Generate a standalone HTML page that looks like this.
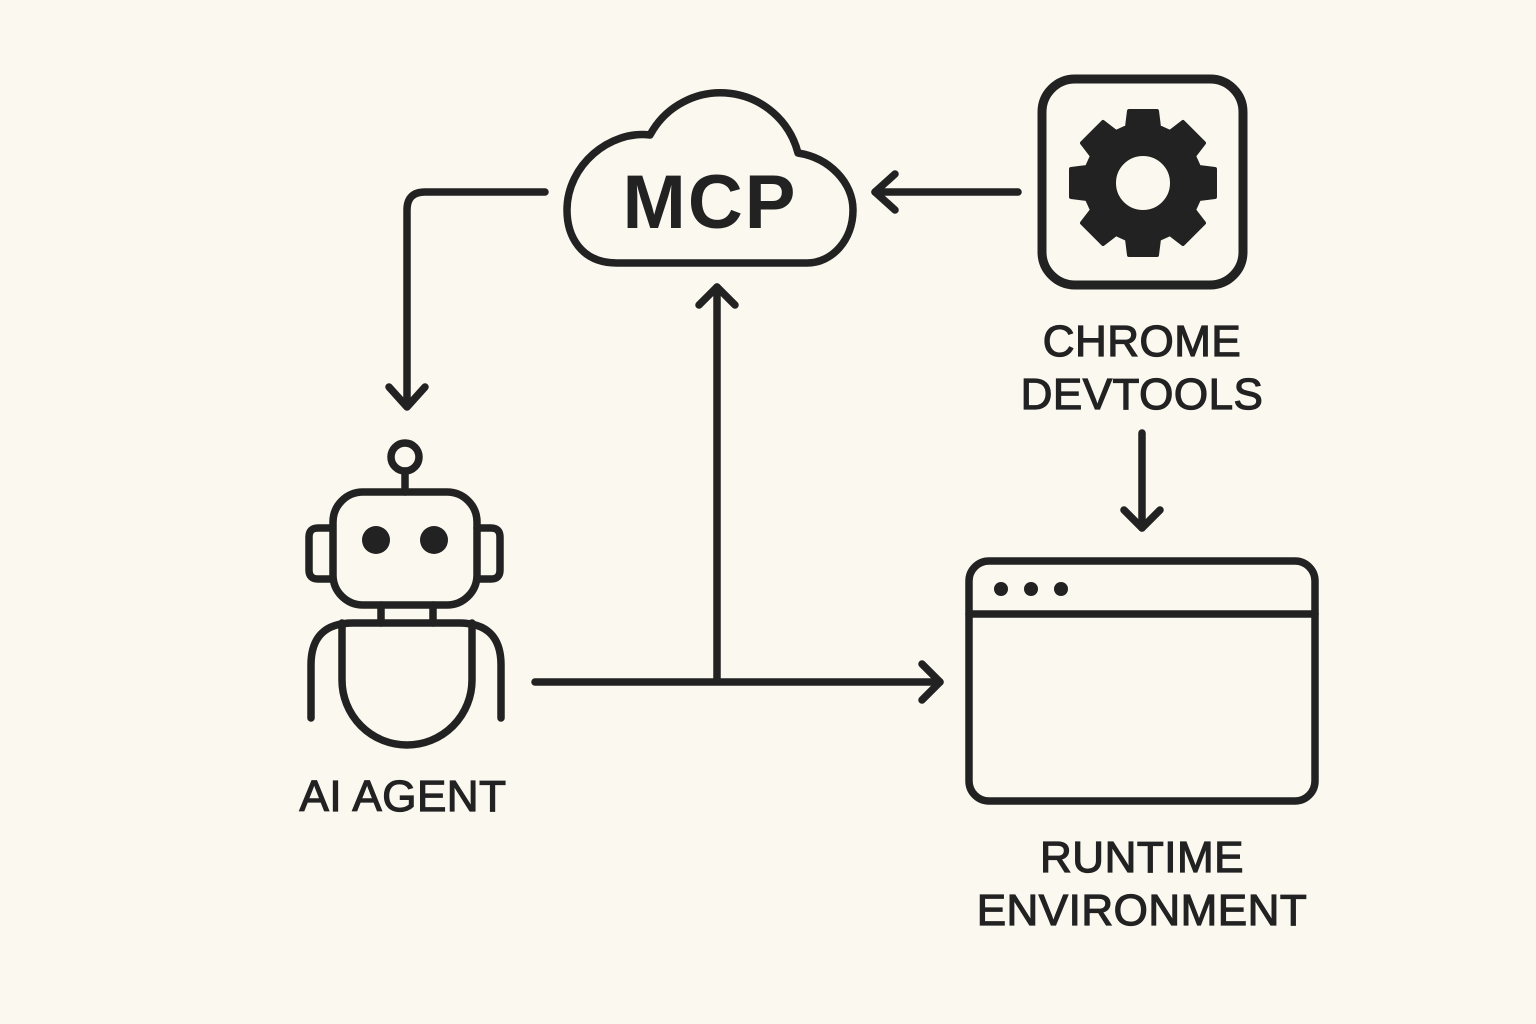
<!DOCTYPE html>
<html><head><meta charset="utf-8"><style>
html,body{margin:0;padding:0;background:#fbf8ef;}
svg{display:block;}
text{font-family:"Liberation Sans",sans-serif;fill:#222;text-anchor:middle;}
.lb{stroke:#222;stroke-width:1.2px;letter-spacing:0.5px;}
</style></head><body>
<svg width="1536" height="1024" viewBox="0 0 1536 1024" xmlns="http://www.w3.org/2000/svg">
<rect width="1536" height="1024" fill="#fbf8ef"/>
<g fill="none" stroke="#222" stroke-width="7.5" stroke-linecap="round" stroke-linejoin="round">
  <path d="M617,263 C580,263 567,235 567,210 C567,165 610,130 650,135 A80,80 0 0 1 798,153 C830,158 853,183 853,210 C853,240 832,263 807,263 Z"/>
  <path d="M545,192 L425,192 Q407,192 407,210 L407,405"/>
  <path d="M389,387 L407,407 L425,387"/>
  <path d="M1018,192 L875,192"/>
  <path d="M895,174 L875,192 L895,210"/>
  <path d="M717,680 L717,287"/>
  <path d="M699,305 L717,287 L735,305"/>
  <path d="M535,682 L940,682"/>
  <path d="M922,664 L940,682 L922,700"/>
  <path d="M1142,433 L1142,528"/>
  <path d="M1124,510 L1142,528 L1160,510"/>
  <rect x="969" y="561" width="346" height="240" rx="20"/>
  <line x1="969" y1="614" x2="1315" y2="614"/>
  <circle cx="405" cy="457" r="14"/>
  <line x1="405" y1="471" x2="405" y2="492"/>
  <rect x="333" y="492" width="144" height="113" rx="30"/>
  <path d="M332,528 L318,528 Q309,528 309,537 L309,570 Q309,579 318,579 L332,579"/>
  <path d="M477,528 L491,528 Q500,528 500,537 L500,570 Q500,579 491,579 L477,579"/>
  <line x1="381" y1="605" x2="381" y2="623"/>
  <line x1="433" y1="605" x2="433" y2="623"/>
  <path d="M311,718 L311,665 Q311,623 353,623 L459,623 Q501,623 501,665 L501,718"/>
  <path d="M342,623 L342,680 A65,65 0 0 0 472,680 L472,623"/>
</g>
<rect x="1042" y="79" width="201" height="206" rx="33" fill="none" stroke="#222" stroke-width="9"/>
<g fill="#222">
  <circle cx="376" cy="540" r="14"/>
  <circle cx="434" cy="540" r="14"/>
  <circle cx="1001" cy="589" r="7"/>
  <circle cx="1031" cy="589" r="7"/>
  <circle cx="1061" cy="589" r="7"/>
</g>
<g transform="translate(1143,183)">
  <path fill="#222" fill-rule="evenodd" stroke="#222" stroke-width="4" stroke-linejoin="round" d="
  M-14,-72 L14,-72 L16,-56 L27,-51 L40,-61 L61,-40 L51,-27 L56,-16 L72,-14 L72,14 L56,16 L51,27 L61,40 L40,61 L27,51 L16,56 L14,72 L-14,72 L-16,56 L-27,51 L-40,61 L-61,40 L-51,27 L-56,16 L-72,14 L-72,-14 L-56,-16 L-51,-27 L-61,-40 L-40,-61 L-27,-51 L-16,-56 Z
  M29,0 A29,29 0 1 0 -29,0 A29,29 0 1 0 29,0 Z"/>
</g>
<text x="710" y="228" font-size="76" font-weight="bold" letter-spacing="2">MCP</text>
<text class="lb" x="1142" y="356" font-size="44">CHROME</text>
<text class="lb" x="1142" y="409" font-size="44">DEVTOOLS</text>
<text class="lb" x="403" y="811" font-size="44">AI AGENT</text>
<text class="lb" x="1142" y="872" font-size="44">RUNTIME</text>
<text class="lb" x="1142" y="925" font-size="44">ENVIRONMENT</text>
</svg>
</body></html>
